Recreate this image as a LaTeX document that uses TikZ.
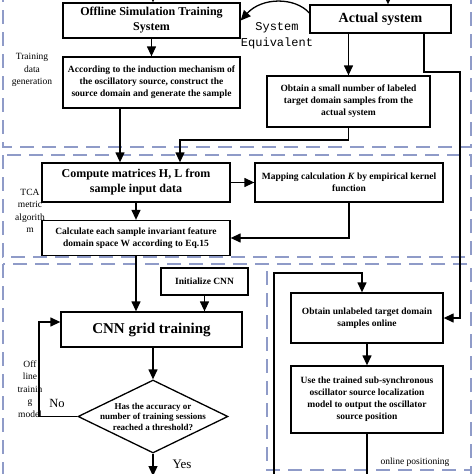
\documentclass[tikz,border=0pt]{standalone}
\usepackage{fontspec}
\setmainfont{Liberation Serif}
\newfontfamily\monof{Liberation Mono}
\usetikzlibrary{arrows.meta,calc,shapes.geometric}
\definecolor{regblue}{RGB}{143,155,200}
\begin{document}
\begin{tikzpicture}[x=1pt,y=-1pt,
  box/.style={draw=black,line width=1.3pt,align=center,inner sep=1pt,
    font=\fontsize{9.5}{12}\selectfont\bfseries},
  bigbox/.style={box,font=\fontsize{12}{15}\selectfont\bfseries},
  arr/.style={line width=1.3pt,-{Triangle[length=10pt,width=9pt]}},
  ln/.style={line width=1.3pt},
  region/.style={draw=regblue,line width=2pt,dash pattern=on 14pt off 8pt},
  lab/.style={align=center,font=\fontsize{9.5}{12.5}\selectfont},
  yn/.style={font=\fontsize{12.5}{14}\selectfont}]
\useasboundingbox (0,0) rectangle (474,474);
% regions
\draw[region] (3,-12) rectangle (471,147);
\draw[region] (3,155) rectangle (471,257);
\draw[region] (3,264) rectangle (471,490);
\draw[region] (267,271) -- (267,470) -- (471,470);
% boxes
\node[bigbox,minimum width=177pt,minimum height=35pt] (off) at (151.5,20.5) {Offline Simulation Training\\System};
\node[box,minimum width=141pt,minimum height=28pt,font=\fontsize{14}{16}\selectfont\bfseries] (act) at (380.5,19) {Actual system};
\node[box,minimum width=177pt,minimum height=51pt] (acc) at (151.5,82.5) {According to the induction mechanism of\\the oscillatory source, construct the\\source domain and generate the sample};
\node[box,minimum width=163pt,minimum height=51pt] (obs) at (348.5,101.5) {Obtain a small number of labeled\\target domain samples from the\\actual system};
\node[bigbox,minimum width=188pt,minimum height=39pt] (comp) at (136,182.5) {Compute matrices H, L from\\sample input data};
\node[box,minimum width=188pt,minimum height=39pt] (map) at (349,182.5) {Mapping calculation \textit{K} by empirical kernel\\function};
\node[box,minimum width=188pt,minimum height=35pt] (calc) at (136,238) {Calculate each sample invariant feature\\domain space W according to Eq.15};
\node[box,minimum width=87pt,minimum height=27pt] (init) at (204.5,281.5) {Initialize CNN};
\node[box,minimum width=181pt,minimum height=35pt,font=\fontsize{15}{17}\selectfont\bfseries] (cnn) at (151.5,329.5) {CNN grid training};
\node[diamond,draw=black,line width=1.3pt,minimum width=150pt,minimum height=73pt,inner sep=0pt] (dia) at (153,416.5) {};
\node[align=center,font=\fontsize{9}{10.5}\selectfont\bfseries] (diat) at (dia) {Has the accuracy or\\number of training sessions\\reached a threshold?};
\node[box,minimum width=152pt,minimum height=50pt] (unl) at (367,318) {Obtain unlabeled target domain\\samples online};
\node[box,minimum width=152pt,minimum height=67pt] (use) at (367,399.5) {Use the trained sub-synchronous\\oscillator source localization\\model to output the oscillator\\source position};
% labels
\node[lab] (l1) at (32,70) {Training\\data\\generation};
\node[lab] (l2) at (30,211) {TCA\\metric\\algorith\\m};
\node[lab] (l3) at (30,389) {Off\\line\\trainin\\g\\model};
\node[lab] (l4) at (415,462) {online positioning};
\node[yn] (no) at (57,403) {No};
\node[yn,font=\fontsize{13}{15}\selectfont] (yes) at (182,464) {Yes};
\node[align=center,font=\monof\fontsize{12}{16}\selectfont] (se) at (277,36) {System\\Equivalent};
% coordinates
\coordinate (topA) at (153,-12);
\coordinate (topB) at (388,-12);
\coordinate (r1) at (460,72);
\coordinate (j1) at (180,140);
\coordinate (a1) at ($(acc.south)+(-31.5,0)$);
\coordinate (a2) at ($(act.south)+(43.5,0)$);
\coordinate (n1) at (39,322);
\coordinate (o1) at (274,490);
\coordinate (o2) at (362,273);
\coordinate (bot) at (0,476);
\coordinate (bot2) at (0,490);
% connectors
\draw[arr] (topA) -- (topA |- off.north);
\draw[arr] (topB) -- (topB |- act.north);
\draw[arr] ($(act.west)+(0,-6)$) .. controls (295,-3) and (262,-3) .. (off.east);
\draw[arr] (off.south) -- (acc.north);
\draw[arr] (obs.north |- act.south) -- (obs.north);
\draw[arr] (a2) |- (r1) -- (r1 |- unl.east) -- (unl.east);
\draw[arr] (a1) -- (a1 |- comp.north);
\draw[arr] (obs.south) |- (j1) -- (j1 |- comp.north);
\draw[arr] (comp.east) -- (map.west);
\draw[arr] (comp.south) -- (calc.north);
\draw[arr] (map.south) |- (calc.east);
\draw[arr] (calc.south) -- (calc.south |- cnn.north);
\draw[arr] (init.south) -- (init.south |- cnn.north);
\draw[arr] (cnn.south -| dia.north) -- (dia.north);
\draw[arr] (dia.west) -| (n1) -- (n1 -| cnn.west);
\draw[arr] (dia.south) -- (dia.south |- bot);
\draw[arr] (o1) |- (o2) -- (o2 |- unl.north);
\draw[arr] (unl.south) -- (use.north);
\draw[ln] (use.south) -- (use.south |- bot2);
\end{tikzpicture}
\end{document}
